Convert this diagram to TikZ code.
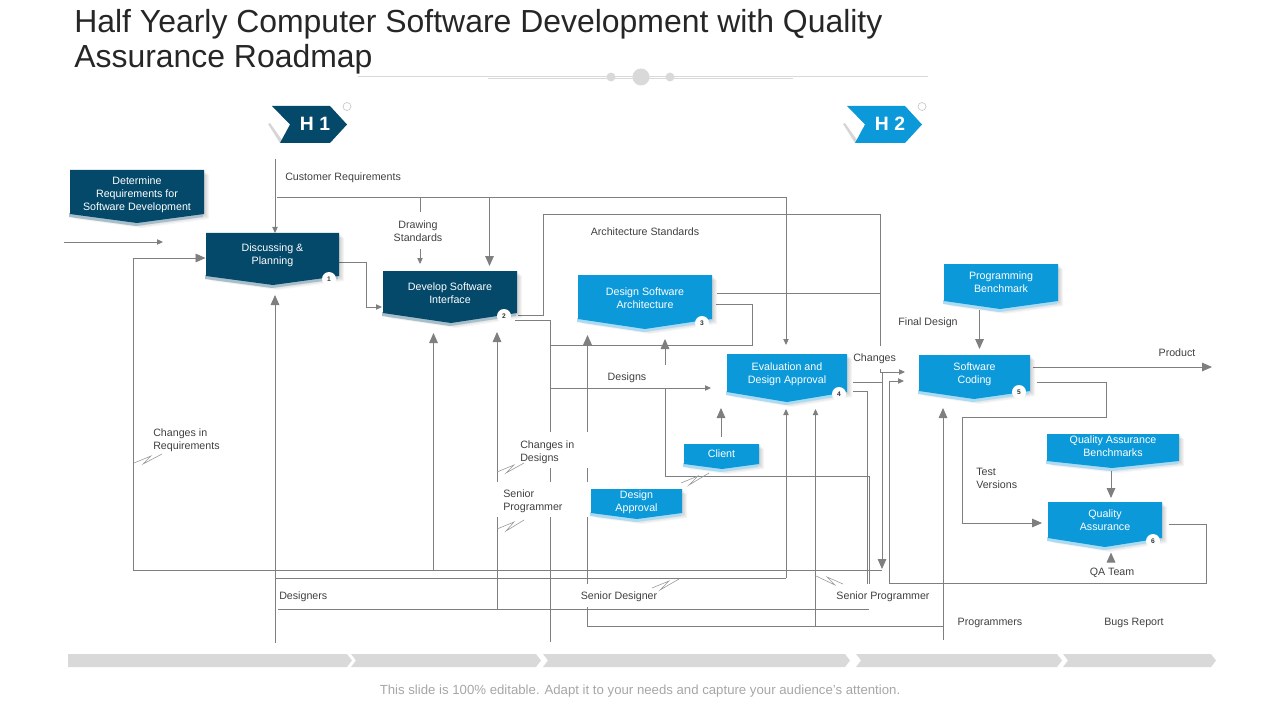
\documentclass[tikz,border=0pt]{standalone}
\usepackage{fontspec}
\setmainfont{Liberation Sans}
\usetikzlibrary{arrows.meta}
\definecolor{darkb}{HTML}{04496A}
\definecolor{blueb}{HTML}{0C99D9}
\definecolor{linegray}{HTML}{7F7F7F}
\definecolor{txtgray}{HTML}{404040}
\definecolor{barg}{HTML}{D9D9D9}
\tikzset{
  conn/.style={draw=linegray,line width=0.7pt},
  tipS/.style={conn,-{Triangle[width=4pt,length=4.5pt]}},
  tipL/.style={conn,-{Triangle[width=6.5pt,length=7.5pt]}},
  zig/.style={draw=linegray!80,line width=0.45pt},
  lbl/.style={font=\fontsize{8}{9.75}\selectfont,text=txtgray,inner sep=0pt,align=left,yshift=-1.2pt},
  lblc/.style={lbl,align=center},
  boxtext/.style={font=\fontsize{8}{9.75}\selectfont,text=white,inner sep=0pt,align=center,yshift=-0.9pt},
  badge/.style={circle,fill=white,inner sep=0pt,minimum size=10.5pt,font=\bfseries\fontsize{5}{6}\selectfont,text=black!80},
  hlabel/.style={font=\bfseries\fontsize{14.5}{16}\selectfont,text=white,inner sep=0pt},
}
\def\tshift{0}
% name x1 y1 x2 y2 xtip ytip colour text
\newcommand{\pentbox}[9]{%
  \foreach \d in {1,...,5}{\fill[black,opacity=.04,shift={(\d,\d)}] (#2,#3)--(#4,#3)--(#4,#5)--(#6,#7)--(#2,#5)--cycle;}
  \fill[#8!35!white,shift={(-1,3)}] (#2,#5)--(#6,#7)--(#4,#5)--(#4,#5-4)--(#6,#7-4)--(#2,#5-4)--cycle;
  \fill[#8] (#2,#3)--(#4,#3)--(#4,#5)--(#6,#7)--(#2,#5)--cycle;
  \node[boxtext,minimum width={(#4-#2)*0.75pt},minimum height={(#5-#3)*0.75pt}] (#1) at ({(#2+#4)/2},{(#3+#5)/2+\tshift}) {#9};
}
\newcommand{\hbadge}[4]{% name x colour text
  \fill[black!16] (#2-47,124)--(#2-45,123)--(#2-33,140)--(#2-35,143)--cycle;
  \fill[#3] (#2-43,106)--(#2+15,106)--(#2+32,124.5)--(#2+15,143)--(#2-35,143)--(#2-25,124.5)--cycle;
  \node[hlabel] (#1) at (#2,124) {#4};
  \draw[black!22,line width=0.5pt,fill=white] (#2+32,106.5) circle (4);
}
\newcommand{\chev}[2]{\fill[barg] (#1,654)--(#2-5,654)--(#2,660.5)--(#2-5,667)--(#1,667)--(#1+5,660.5)--cycle;}
\newcommand{\zigzag}[4]{\draw[zig] #1--#2--#3--#4;}
\begin{document}
\begin{tikzpicture}[x=0.75pt,y=-0.75pt]
\useasboundingbox (0,0) rectangle (1280,720);
% title
\node[anchor=west,inner sep=0pt,text=black!85,font=\fontsize{23.95}{25.9}\selectfont,align=left] (title) at (74,42) {Half Yearly Computer Software Development with Quality\\Assurance Roadmap};
\draw[barg,line width=0.6pt] (358,76)--(928,76);
\draw[barg,line width=0.6pt] (488,78)--(793,78);
\fill[barg] (611,77) circle (4.5) (641,77) circle (8.5) (670,77) circle (4.5);
% H badges
\hbadge{hone}{315}{darkb}{H 1}
\hbadge{htwo}{890}{blueb}{H 2}
% free-end coordinates
\coordinate (custTop) at (275,159);
\coordinate (reqBus) at (277,197);
\coordinate (stubA) at (64,242);
\coordinate (stubB) at (163,242);

% connectors
\draw[tipS] (stubA)--(stubB);
\draw[tipS] (custTop)--(275,233);
\draw[tipS] (reqBus)-|(786,345);
\draw[conn] (420,197)--(420,212);
\draw[tipS] (420,249)--(420,264);
\draw[tipL] (489.5,197)--(489.5,266);
\draw[tipS] (339,262)-|(366,307)--(382,307);
\draw[tipL] (882,570)-|(133,258)--(205.5,258);
\draw[conn] (882,570)--(133,570);
\draw[tipL] (275,643)--(275,295);
\draw[tipL] (433.5,570)--(433.5,333);
\draw[conn] (518,315)-|(543,214)-|(880,346);
\draw[conn] (880,369)--(880,372);
\draw[tipS] (880,372)--(905,372);
\draw[conn] (515,320)-|(550,432);
\draw[conn] (550,468)--(550,482);
\draw[conn] (550,517)--(550,642);
\draw[conn] (716,304)-|(752,345)--(550,345);
\draw[tipL] (665,365)--(665,339);
\draw[tipS] (550,388)--(711,388);
\draw[conn] (665,388)|-(869,476)--(869,584);
\draw[tipL] (587.5,432)--(587.5,335);
\draw[conn] (587.5,468)--(587.5,482);
\draw[conn] (587.5,517)--(587.5,584);
\draw[conn] (587.5,607)|-(943,626);
\draw[tipS] (815.5,626)--(815.5,409);
\draw[tipL] (943,640)--(943,408);
\draw[conn] (278,609)--(869,609);
\draw[conn] (497,609)--(497,517);
\draw[tipL] (497,482)--(497,332);
\draw[tipS] (786,578)--(786,409);
\draw[conn] (276,578)--(786,578);
\draw[tipL] (721,437)--(721,408);
\draw[conn] (717,293)--(880,293);
\draw[conn] (853,382)--(882,382);
\draw[tipL] (882,372)--(882,569);
\draw[conn] (853,391)-|(867.5,584);
\draw[tipS] (1169,524)-|(1206,583)-|(889,381)--(904,381);
\draw[tipL] (979.5,310)--(979.5,349);
\draw[tipL] (1033,367)--(1212,367);
\draw[tipL] (1037,382)-|(1106,417)-|(962,523)--(1042,523);
\draw[tipL] (1111,469)--(1111,498);
\draw[tipL] (1111,560)--(1111,552.5);
% zigzags
\zigzag{(134,463)}{(151,456)}{(143,464)}{(162,454)}
\zigzag{(497,472)}{(514,465)}{(506,473)}{(524,463)}
\zigzag{(497,529)}{(514,522)}{(506,531)}{(524,520)}
\zigzag{(681,483)}{(698,476)}{(689,485)}{(709,473)}
\zigzag{(652,588)}{(669,581)}{(660,590)}{(679,579)}
\zigzag{(816,576)}{(835,585)}{(827,577)}{(843,584)}
% boxes
\def\tshift{2}
\pentbox{determine}{70}{170}{204}{214}{137}{223}{darkb}{Determine\\Requirements for\\Software Development}
\def\tshift{-0.5}
\pentbox{discuss}{206}{233}{339}{276}{273}{285}{darkb}{Discussing \&\\Planning}
\pentbox{develop}{383}{271}{517}{313}{451}{323}{darkb}{Develop Software\\Interface}
\def\tshift{0}
\pentbox{archi}{578}{275}{712}{319}{645}{329}{blueb}{Design Software\\Architecture}
\pentbox{evalu}{727}{354}{847}{392}{787}{402}{blueb}{Evaluation and\\Design Approval}
\def\tshift{-2}
\pentbox{progb}{944}{264}{1058}{301}{1000}{309}{blueb}{Programming\\Benchmark}
\def\tshift{0}
\pentbox{coding}{919}{355}{1030}{391}{974}{399}{blueb}{Software\\Coding}
\def\tshift{-3}
\pentbox{qab}{1047}{434}{1179}{461}{1112}{468}{blueb}{Quality Assurance\\Benchmarks}
\def\tshift{-1}
\pentbox{qa}{1048}{502}{1162}{538}{1105}{547}{blueb}{Quality\\Assurance}
\def\tshift{-2}
\pentbox{client}{684}{444}{759}{464}{722}{469}{blueb}{Client}
\def\tshift{0}
\pentbox{dapp}{591}{489}{682}{513}{637}{519}{blueb}{Design\\Approval}
% badges
\node[badge] (b1) at (329,279) {1};
\node[badge] (b2) at (504,316) {2};
\node[badge] (b3) at (702,323) {3};
\node[badge] (b4) at (839,394) {4};
\node[badge] (b5) at (1019,392) {5};
\node[badge] (b6) at (1153,541) {6};
% labels
\node[lbl,anchor=west] (l1) at (285,176) {Customer Requirements};
\node[lblc] (l2) at (418,229.5) {Drawing\\Standards};
\node[lblc] (l3) at (645,230) {Architecture Standards};
\node[lblc] (l4) at (928,321) {Final Design};
\node[lbl,anchor=west] (l5) at (853,357) {Changes};
\node[lblc] (l6) at (1177,351) {Product};
\node[lblc] (l7) at (627,376) {Designs};
\node[lbl,anchor=west] (l8) at (520,450.5) {Changes in\\Designs};
\node[lbl,anchor=west] (l9) at (503,499.5) {Senior\\Programmer};
\node[lbl,anchor=west] (l10) at (976,476.5) {Test\\Versions};
\node[lbl,anchor=west] (l11) at (153,438.5) {Changes in\\Requirements};
\node[lbl,anchor=west] (l12) at (279,595) {Designers};
\node[lblc] (l13) at (619,595) {Senior Designer};
\node[lblc] (l14) at (883,595) {Senior Programmer};
\node[lblc] (l15) at (1112,571) {QA Team};
\node[lblc] (l16) at (990,621) {Programmers};
\node[lblc] (l17) at (1134,621) {Bugs Report};
% bottom bar
\chev{68}{352}
\fill[barg] (68,654) rectangle (75,667);
\chev{351}{541}
\chev{543}{850}
\chev{856}{1062}
\chev{1063}{1216}
\node[inner sep=0pt,text=black!35,font=\fontsize{9.9}{12}\selectfont] (foot) at (640,691.5) {This slide is 100\% editable. Adapt it to your needs and capture your audience's attention.};
\end{tikzpicture}
\end{document}
